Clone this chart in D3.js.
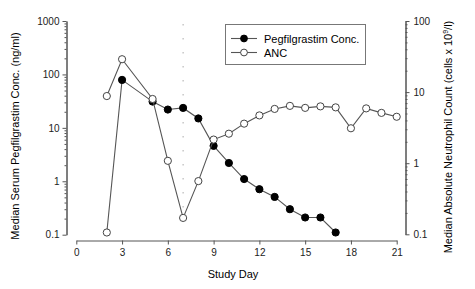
<!DOCTYPE html>
<html>
<head>
<meta charset="utf-8">
<script src="https://cdn.jsdelivr.net/npm/d3@7"></script>
<style>
  body { margin: 0; background: #fff; }
  svg { display: block; font-family: "Liberation Sans", Arial, sans-serif; }
  .tick text { fill: #222; }
</style>
</head>
<body>
<div id="chart"></div>
<script>
// study days
const pegDays = [2, 3, 5, 6, 7, 8, 9, 10, 11, 12, 13, 14, 15, 16, 17]
// median serum pegfilgrastim conc. (ng/ml), left axis
const pegConc = [0.11, 79, 31, 22, 23.6, 15, 4.6, 2.2, 1.1, 0.71, 0.51, 0.30, 0.21, 0.21, 0.11]
// day 2 sample is drawn as an open marker in the original
const pegOpenDays = [2]

const ancDays = [2, 3, 5, 6, 7, 8, 9, 10, 11, 12, 13, 14, 15, 16, 17, 18, 19, 20, 21]
// median ANC (cells x 10^9/l), right axis
const ancValues = [8.8, 29, 8.0, 1.08, 0.17, 0.56, 2.15, 2.6, 3.6, 4.7, 5.8, 6.4, 6.0, 6.3, 6.1, 3.1, 5.9, 5.1, 4.5]

const xTicks = [0, 3, 6, 9, 12, 15, 18, 21]
const leftTicks = [0.1, 1, 10, 100, 1000]
const rightTicks = [0.1, 1, 10, 100]
const doseDay = 7

const width = 475
const height = 289
const lineColor = '#555'

const svg = d3.select('#chart')
  .append('svg')
  .attr('width', width)
  .attr('height', height)

const x = d3.scaleLinear().domain([0, 21]).range([76.3, 396.7])
const yLeft = d3.scaleLog().domain([0.1, 1000]).range([234.7, 21])
const yRight = d3.scaleLog().domain([0.1, 100]).range([234.3, 21])

// minor log ticks (2..9 in each decade)
const minorTicks = (domain) => {
  const out = []
  for (let p = Math.log10(domain[0]); p < Math.log10(domain[1]); p++) {
    for (let k = 2; k < 10; k++) out.push(k * Math.pow(10, p))
  }
  return out
}
const fmt = d => d < 1 ? '0.1' : String(d)

// x axis
const xAxis = svg.append('g')
  .attr('transform', 'translate(0,240.5)')
  .call(d3.axisBottom(x).tickValues(xTicks).tickSize(4).tickSizeOuter(0).tickPadding(4))
xAxis.selectAll('text').style('font-size', '10px')

// left axis
svg.append('g')
  .attr('transform', 'translate(66.5,0)')
  .call(d3.axisLeft(yLeft).tickValues(minorTicks(yLeft.domain())).tickSize(2).tickFormat('').tickSizeOuter(0))
const leftAxis = svg.append('g')
  .attr('transform', 'translate(66.5,0)')
  .call(d3.axisLeft(yLeft).tickValues(leftTicks).tickFormat(fmt).tickSize(4).tickSizeOuter(0).tickPadding(3))
leftAxis.selectAll('text').style('font-size', '10px')

// right axis
svg.append('g')
  .attr('transform', 'translate(405.5,0)')
  .call(d3.axisRight(yRight).tickValues(minorTicks(yRight.domain())).tickSize(2).tickFormat('').tickSizeOuter(0))
const rightAxis = svg.append('g')
  .attr('transform', 'translate(405.5,0)')
  .call(d3.axisRight(yRight).tickValues(rightTicks).tickFormat(fmt).tickSize(4).tickSizeOuter(0).tickPadding(4))
rightAxis.selectAll('text').style('font-size', '10px')

svg.selectAll('.domain, .tick line').attr('stroke', lineColor)

// axis titles
svg.append('text')
  .attr('transform', 'translate(19,136) rotate(-90)')
  .attr('text-anchor', 'middle')
  .style('font-size', '11px')
  .text('Median Serum Pegfilgrastim Conc. (ng/ml)')

const rt = svg.append('text')
  .attr('transform', 'translate(452,137) rotate(-90)')
  .attr('text-anchor', 'middle')
  .style('font-size', '11px')
rt.append('tspan').text('Median Absolute Neutrophil Count (cells x 10')
rt.append('tspan').attr('dy', -4).style('font-size', '7px').text('9')
rt.append('tspan').attr('dy', 4).text('/l)')

svg.append('text')
  .attr('x', 233)
  .attr('y', 278)
  .attr('text-anchor', 'middle')
  .style('font-size', '11px')
  .text('Study Day')

// dosing reference line
svg.append('line')
  .attr('x1', x(doseDay)).attr('x2', x(doseDay))
  .attr('y1', 24).attr('y2', 226)
  .attr('stroke', '#aaa')
  .attr('stroke-width', 1)
  .attr('stroke-dasharray', '1.5 12.5')

const pegData = pegDays.map((d, i) => ({ day: d, v: pegConc[i] }))
const ancData = ancDays.map((d, i) => ({ day: d, v: ancValues[i] }))

const pegLine = d3.line().x(d => x(d.day)).y(d => yLeft(d.v))
const ancLine = d3.line().x(d => x(d.day)).y(d => yRight(d.v))

svg.append('path')
  .datum(pegData)
  .attr('d', pegLine)
  .attr('fill', 'none')
  .attr('stroke', lineColor)
  .attr('stroke-width', 1.1)

svg.append('g')
  .selectAll('circle')
  .data(pegData)
  .enter()
  .append('circle')
  .attr('cx', d => x(d.day))
  .attr('cy', d => yLeft(d.v))
  .attr('r', 3.6)
  .attr('fill', d => pegOpenDays.includes(d.day) ? '#fff' : '#000')
  .attr('stroke', d => pegOpenDays.includes(d.day) ? '#444' : '#000')
  .attr('stroke-width', 1)

svg.append('path')
  .datum(ancData)
  .attr('d', ancLine)
  .attr('fill', 'none')
  .attr('stroke', lineColor)
  .attr('stroke-width', 1.1)

svg.append('g')
  .selectAll('circle')
  .data(ancData)
  .enter()
  .append('circle')
  .attr('cx', d => x(d.day))
  .attr('cy', d => yRight(d.v))
  .attr('r', 3.6)
  .attr('fill', '#fff')
  .attr('stroke', '#444')
  .attr('stroke-width', 1)

// legend
const legend = svg.append('g')
legend.append('rect')
  .attr('x', 225.5).attr('y', 24.5)
  .attr('width', 140).attr('height', 40)
  .attr('fill', '#fff')
  .attr('stroke', '#777')

const legendItems = [
  { label: 'Pegfilgrastim Conc.', fill: '#000', stroke: '#000' },
  { label: 'ANC', fill: '#fff', stroke: '#444' }
]
legendItems.forEach((item, i) => {
  const yy = 38.5 + i * 14
  legend.append('line')
    .attr('x1', 231).attr('x2', 257)
    .attr('y1', yy).attr('y2', yy)
    .attr('stroke', lineColor)
    .attr('stroke-width', 1.1)
  legend.append('circle')
    .attr('cx', 244).attr('cy', yy)
    .attr('r', 3.4)
    .attr('fill', item.fill)
    .attr('stroke', item.stroke)
  legend.append('text')
    .attr('x', 264).attr('y', yy + 4)
    .style('font-size', '11px')
    .text(item.label)
})
</script>
</body>
</html>
